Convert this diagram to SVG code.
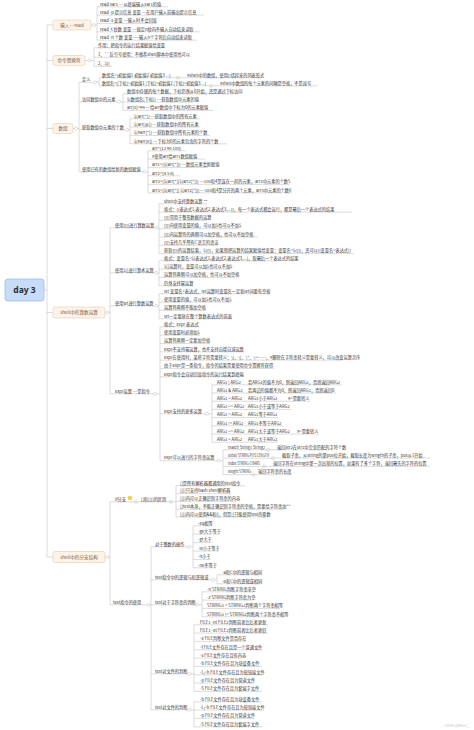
<svg xmlns="http://www.w3.org/2000/svg" width="474" height="730" viewBox="0 0 474 730">
<style>
.t{font-family:"Noto Sans CJK SC","Noto Sans",sans-serif;font-size:4.2px;fill:#333}
.l{stroke:#c2c2c2;stroke-width:0.6;fill:none}
.o{fill:#fff;stroke:#b0b0b0;stroke-width:0.4}
.b1{fill:#fdf3e8;stroke:#e6cdb0;stroke-width:0.6}
.bt{font-family:"Noto Sans CJK SC","Noto Sans",sans-serif;font-size:4.6px;fill:#7a5c3e;text-anchor:middle}
</style>
<rect width="474" height="730" fill="#fff"/>
<g id="connectors">
<path class="l" d="M44,290H47M47,25V557M47,25H53M47,60.5H53M47,128.5H53M47,312.5H53M47,557H53"/>
<path class="l" d="M91,25H97M97,6.8V40.1M85,60.5H94M94,47.8V66.3M73,128.5H79M79,82.3V171.8M105,312.5H110M110,227.8V393.8M105,557H110M110,501.8V604.8"/>
<path class="l" d="M91,82.3H99M99,77.8V85.8M115,101.8H123M123,93.8V110.3M124,129.8H130M130,118.8V143.8M141,171.8H148M148,150.8V192.8"/>
<path class="l" d="M153.6,227.8H159M159,203.8V253.6M153.4,272.8H159M159,260.8V285.8M153.3,305.8H159M159,293.8V318.8M150,393.8H160M160,326.8V460.7M202,413.8H212M212,384.8V442.2M215,460.7H223M223,449.8V474.7"/>
<path class="l" d="M176,485.8V517M146,604.8H151M151,546.8V709.8M184,546.8H193M193,525.8V567.8M209,579.8H217M217,574.8V583.8M192,604.8H202M202,591.8V616.8M184,673.8H194M194,624.8V691.4M184,709.8H194M194,701.8V726.8"/>
<circle class="o" cx="94" cy="25" r="1.5"/><circle class="o" cx="89.5" cy="60.5" r="1.5"/><circle class="o" cx="76" cy="128.5" r="1.5"/><circle class="o" cx="107.5" cy="312.5" r="1.5"/><circle class="o" cx="107.5" cy="557" r="1.5"/>
<circle class="o" cx="95" cy="82.3" r="1.5"/><circle class="o" cx="119" cy="101.8" r="1.5"/><circle class="o" cx="127" cy="129.8" r="1.5"/><circle class="o" cx="144.5" cy="171.8" r="1.5"/>
<circle class="o" cx="178" cy="77.8" r="1.5"/><circle class="o" cx="211" cy="85.8" r="1.5"/>
<circle class="o" cx="156.3" cy="227.8" r="1.5"/><circle class="o" cx="156.2" cy="272.8" r="1.5"/><circle class="o" cx="156.2" cy="305.8" r="1.5"/><circle class="o" cx="155" cy="393.8" r="1.5"/><circle class="o" cx="207" cy="413.8" r="1.5"/><circle class="o" cx="219" cy="460.7" r="1.5"/>
<circle class="o" cx="268" cy="449.8" r="1.5"/><circle class="o" cx="273" cy="458.1" r="1.5"/><circle class="o" cx="264" cy="466.4" r="1.5"/><circle class="o" cx="253.5" cy="474.7" r="1.5"/>
<circle class="o" cx="136" cy="501.8" r="1.5"/><circle class="o" cx="171" cy="501.8" r="1.5"/><circle class="o" cx="148.5" cy="604.8" r="1.5"/><circle class="o" cx="188.5" cy="546.8" r="1.5"/><circle class="o" cx="213" cy="579.8" r="1.5"/><circle class="o" cx="197" cy="604.8" r="1.5"/><circle class="o" cx="189" cy="673.8" r="1.5"/><circle class="o" cx="189" cy="709.8" r="1.5"/>
</g>
<g id="root"><rect x="5" y="279" width="39" height="22" rx="3" fill="#c9dcf7" stroke="#94b4e4" stroke-width="0.7"/><text x="24.5" y="293" font-family="Noto Sans,sans-serif" font-size="8.5" font-weight="bold" fill="#1f2d3d" text-anchor="middle">day 3</text></g>
<g id="n-read"><rect class="b1" x="53" y="20" width="38" height="10" rx="2"/><text class="bt" x="72" y="26.6">输入---read</text></g>
<g id="n-cmd"><rect class="b1" x="53" y="55.5" width="32" height="10" rx="2"/><text class="bt" x="69" y="62.1">命令置换符</text></g>
<g id="n-arr"><rect class="b1" x="53" y="123.5" width="20" height="10" rx="2"/><text class="bt" x="63" y="130.1">数组</text></g>
<g id="n-calc"><rect class="b1" x="53" y="307" width="52" height="11" rx="2"/><text class="bt" x="79" y="314.1">shell中的算数运算</text></g>
<g id="n-branch"><rect class="b1" x="53" y="551.5" width="52" height="11" rx="2"/><text class="bt" x="79" y="558.6">shell中的分支结构</text></g>

<g id="read-items">
<g id="r1"><line class="l" x1="97" y1="6.8" x2="168" y2="6.8"/><text class="t" x="100" y="5.5">read var1 ---从终端输入var1的值</text></g>
<g id="r2"><line class="l" x1="97" y1="15.1" x2="204" y2="15.1"/><text class="t" x="100" y="13.8">read -p 提示信息 变量 ---在用户输入前输出提示信息</text></g>
<g id="r3"><line class="l" x1="97" y1="23.4" x2="157" y2="23.4"/><text class="t" x="100" y="22.1">read -s 变量 ---输入时不会回显</text></g>
<g id="r4"><line class="l" x1="97" y1="31.8" x2="200" y2="31.8"/><text class="t" x="100" y="30.5">read -t 秒数 变量 ---规定n秒内不输入自动结束读取</text></g>
<g id="r5"><line class="l" x1="97" y1="40.1" x2="197" y2="40.1"/><text class="t" x="100" y="38.8">read -n 个数 变量 ----输入n个字符后自动结束读取</text></g>
</g>
<g id="cmd-items">
<g id="c1"><line class="l" x1="94" y1="47.8" x2="165" y2="47.8"/><text class="t" x="98" y="46.5">作用：把指令的运行结果赋值给变量</text></g>
<g id="c2"><line class="l" x1="94" y1="57.3" x2="182" y2="57.3"/><text class="t" x="98" y="56">1、``反引号使用：不推荐shell脚本中使用也可以</text></g>
<g id="c3"><line class="l" x1="94" y1="66.3" x2="112" y2="66.3"/><text class="t" x="98" y="65">2、$()</text></g>
</g>
<g id="arr-items">
<g id="a-def"><line class="l" x1="79" y1="82.3" x2="91" y2="82.3"/><text class="t" x="82" y="81">定义</text></g>
<g id="a-def1"><line class="l" x1="99" y1="77.8" x2="262" y2="77.8"/><text class="t" x="102" y="76.5">数组名=(初始值1 初始值2 初始值3 ...)</text><text class="t" x="187" y="76.5">#shell中的数组，使用()括起来的列表形式</text></g>
<g id="a-def2"><line class="l" x1="99" y1="85.8" x2="318" y2="85.8"/><text class="t" x="102" y="84.5" textLength="104" lengthAdjust="spacingAndGlyphs">数组名=([下标]=初始值1 [下标]=初始值2 [下标]=初始值3 ...)</text><text class="t" x="220" y="84.5">#shell中数组的每个元素的间隔是空格，不是逗号</text></g>
<g id="a-acc"><line class="l" x1="79" y1="101.8" x2="115" y2="101.8"/><text class="t" x="82" y="100.5">访问数组中的元素</text></g>
<g id="a-acc1"><line class="l" x1="123" y1="93.8" x2="239" y2="93.8"/><text class="t" x="127" y="92.5">数组中存储的每个数据，下标仍然从0开始，还是通过下标访问</text></g>
<g id="a-acc2"><line class="l" x1="123" y1="102.1" x2="193" y2="102.1"/><text class="t" x="127" y="100.8">${数组名[下标]} ---获取数组中元素的值</text></g>
<g id="a-acc3"><line class="l" x1="123" y1="110.3" x2="213" y2="110.3"/><text class="t" x="127" y="109">arr[0]=99 ---给arr数组中下标为0的元素赋值</text></g>
<g id="a-cnt"><line class="l" x1="79" y1="129.8" x2="124" y2="129.8"/><text class="t" x="82" y="128.5">获取数组中元素的个数</text></g>
<g id="a-cnt1"><line class="l" x1="130" y1="118.8" x2="200" y2="118.8"/><text class="t" x="134" y="117.5">${arr[*]} ---获取数组中的所有元素</text></g>
<g id="a-cnt2"><line class="l" x1="130" y1="127.1" x2="200" y2="127.1"/><text class="t" x="134" y="125.8">${arr[@]} ---获取数组中的所有元素</text></g>
<g id="a-cnt3"><line class="l" x1="130" y1="135.4" x2="210" y2="135.4"/><text class="t" x="134" y="134.1">${#arr[*]} ---获取数组中所有元素的个数</text></g>
<g id="a-cnt4"><line class="l" x1="130" y1="143.8" x2="227" y2="143.8"/><text class="t" x="134" y="142.5">${#arr[0]} ---下标为0的元素包含的字符的个数</text></g>
<g id="a-new"><line class="l" x1="79" y1="171.8" x2="141" y2="171.8"/><text class="t" x="82" y="170.5">使用已有的数组给新的数组赋值</text></g>
<g id="a-new1"><line class="l" x1="148" y1="150.8" x2="186" y2="150.8"/><text class="t" x="152" y="149.5">arr=(12 90 100)</text></g>
<g id="a-new2"><line class="l" x1="148" y1="159.1" x2="205" y2="159.1"/><text class="t" x="152" y="157.8">#使用arr给arr1数组赋值</text></g>
<g id="a-new3"><line class="l" x1="148" y1="167.4" x2="208" y2="167.4"/><text class="t" x="152" y="166.1">arr1=(${arr[*]}) ---数组元素重新赋值</text></g>
<g id="a-new4"><line class="l" x1="148" y1="175.8" x2="180" y2="175.8"/><text class="t" x="152" y="174.5">arr2=(4 5 6)</text></g>
<g id="a-new5"><line class="l" x1="148" y1="184.3" x2="290" y2="184.3"/><text class="t" x="152" y="183">arr3=(${arr[*]}${arr2[*]}) ---100和4是连在一起的元素，arr3中元素的个数5</text></g>
<g id="a-new6"><line class="l" x1="148" y1="192.8" x2="292" y2="192.8"/><text class="t" x="152" y="191.5">arr3=(${arr[*]} ${arr2[*]}) ---100和4是分开的两个元素，arr3中元素的个数6</text></g>
</g>
<g id="calc-items">
<g id="k-pp"><line class="l" x1="110" y1="227.8" x2="153.6" y2="227.8"/><text class="t" x="115" y="226.5">使用(())进行算数运算</text></g>
<g id="k-pp1"><line class="l" x1="159" y1="203.8" x2="207" y2="203.8"/><text class="t" x="164" y="202.5">shell中支持算数运算 **</text></g>
<g id="k-pp2"><line class="l" x1="159" y1="212.1" x2="352" y2="212.1"/><text class="t" x="164" y="210.8">格式：((表达式1,表达式2,表达式3,...))，每一个表达式都会运行，都是最后一个表达式的结果</text></g>
<g id="k-pp3"><line class="l" x1="159" y1="220.4" x2="207" y2="220.4"/><text class="t" x="164" y="219.1">(())常用于整形数据的运算</text></g>
<g id="k-pp4"><line class="l" x1="159" y1="228.7" x2="237" y2="228.7"/><text class="t" x="164" y="227.4">(())内使用变量的值，可以加$也可以不加$</text></g>
<g id="k-pp5"><line class="l" x1="159" y1="237" x2="258" y2="237"/><text class="t" x="164" y="235.7">(())内运算符的两侧可以加空格，也可以不加空格</text></g>
<g id="k-pp6"><line class="l" x1="159" y1="245.3" x2="218" y2="245.3"/><text class="t" x="164" y="244">(())支持几乎所有C语言的语法</text></g>
<g id="k-pp7"><line class="l" x1="159" y1="253.6" x2="354" y2="253.6"/><text class="t" x="164" y="252.3">获取(())的运算结果，$(())，如果想把运算的结果赋值给变量：变量名=$(())，还可以((变量名=表达式))</text></g>
<g id="k-sq"><line class="l" x1="110" y1="272.8" x2="153.4" y2="272.8"/><text class="t" x="115" y="271.5">使用$[]进行算术运算</text></g>
<g id="k-sq1"><line class="l" x1="159" y1="260.8" x2="277" y2="260.8"/><text class="t" x="164" y="259.5">格式：变量名=$[表达式1,表达式2,表达式3,...]，取最后一个表达式的结果</text></g>
<g id="k-sq2"><line class="l" x1="159" y1="269.1" x2="230" y2="269.1"/><text class="t" x="164" y="267.8">$[]运算时，变量可以加$也可以不加$</text></g>
<g id="k-sq3"><line class="l" x1="159" y1="277.4" x2="235" y2="277.4"/><text class="t" x="164" y="276.1">运算符两侧可以加空格，也可以不加空格</text></g>
<g id="k-sq4"><line class="l" x1="159" y1="285.8" x2="193" y2="285.8"/><text class="t" x="164" y="284.5">仍然支持幂运算</text></g>
<g id="k-let"><line class="l" x1="110" y1="305.8" x2="153.3" y2="305.8"/><text class="t" x="115" y="304.5">使用let进行算数运算</text></g>
<g id="k-let1"><line class="l" x1="159" y1="293.8" x2="270" y2="293.8"/><text class="t" x="164" y="292.5">let 变量名=表达式，let运算时变量名一定和let间要有空格</text></g>
<g id="k-let2"><line class="l" x1="159" y1="302.1" x2="232" y2="302.1"/><text class="t" x="164" y="300.8">使用变量的值，可以加$也可以不加$</text></g>
<g id="k-let3"><line class="l" x1="159" y1="310.4" x2="206" y2="310.4"/><text class="t" x="164" y="309.1">运算符两侧不能加空格</text></g>
<g id="k-let4"><line class="l" x1="159" y1="318.8" x2="232" y2="318.8"/><text class="t" x="164" y="317.5">let一定要放在整个算数表达式的前面</text></g>
<g id="k-expr"><line class="l" x1="110" y1="393.8" x2="150" y2="393.8"/><text class="t" x="115" y="392.5">expr运算 ---是指令</text></g>
<g id="k-e1"><line class="l" x1="160" y1="326.8" x2="199" y2="326.8"/><text class="t" x="164" y="325.5">格式：expr 表达式</text></g>
<g id="k-e2"><line class="l" x1="160" y1="335.1" x2="200" y2="335.1"/><text class="t" x="164" y="333.8">使用变量时必须加$</text></g>
<g id="k-e3"><line class="l" x1="160" y1="343.4" x2="210" y2="343.4"/><text class="t" x="164" y="342.1">运算符两侧一定要加空格</text></g>
<g id="k-e4"><line class="l" x1="160" y1="351.8" x2="244" y2="351.8"/><text class="t" x="164" y="350.5">expr不支持幂运算，也不支持自增自减运算</text></g>
<g id="k-e5"><line class="l" x1="160" y1="360.1" x2="342" y2="360.1"/><text class="t" x="164" y="358.8">expr在使用时，某些字符需要转义：\(、\)、\*、\&lt;……，#删除在字符串转义需要转义，可以改变运算次序</text></g>
<g id="k-e6"><line class="l" x1="160" y1="368.4" x2="274" y2="368.4"/><text class="t" x="164" y="367.1">由于expr是一条指令，指令的结果需要使用命令置换符获得</text></g>
<g id="k-e7"><line class="l" x1="160" y1="376.8" x2="240" y2="376.8"/><text class="t" x="164" y="375.5">expr指令会自动回显指令的运行结果到终端</text></g>
<g id="k-more"><line class="l" x1="160" y1="413.8" x2="202" y2="413.8"/><text class="t" x="164" y="412.5">expr支持的更多运算</text></g>
<g id="k-m1"><line class="l" x1="212" y1="384.8" x2="342" y2="384.8"/><text class="t" x="217" y="383.5">ARG1 | ARG2</text><text class="t" x="248" y="383.5">若ARG1的值不为0，则返回ARG1，否则返回ARG2</text></g>
<g id="k-m2"><line class="l" x1="212" y1="393" x2="336" y2="393"/><text class="t" x="217" y="391.7">ARG1 &amp; ARG2</text><text class="t" x="248" y="391.7">若两边的值都不为0，则返回ARG1，否则返回0</text></g>
<g id="k-m3"><line class="l" x1="212" y1="401.2" x2="310" y2="401.2"/><text class="t" x="217" y="399.9">ARG1 &lt; ARG2</text><text class="t" x="248" y="399.9">ARG1小于ARG2</text><text class="t" x="288" y="399.9">#&lt;需要转义</text></g>
<g id="k-m4"><line class="l" x1="212" y1="409.4" x2="291" y2="409.4"/><text class="t" x="217" y="408.1">ARG1 &lt;= ARG2</text><text class="t" x="248" y="408.1">ARG1小于或等于ARG2</text></g>
<g id="k-m5"><line class="l" x1="212" y1="417.6" x2="278" y2="417.6"/><text class="t" x="217" y="416.3">ARG1 = ARG2</text><text class="t" x="248" y="416.3">ARG1等于ARG2</text></g>
<g id="k-m6"><line class="l" x1="212" y1="425.8" x2="283" y2="425.8"/><text class="t" x="217" y="424.5">ARG1 != ARG2</text><text class="t" x="248" y="424.5">ARG1不等于ARG2</text></g>
<g id="k-m7"><line class="l" x1="212" y1="434" x2="319" y2="434"/><text class="t" x="217" y="432.7">ARG1 &gt;= ARG2</text><text class="t" x="248" y="432.7">ARG1大于或等于ARG2</text><text class="t" x="297" y="432.7">#&gt;需要转义</text></g>
<g id="k-m8"><line class="l" x1="212" y1="442.2" x2="278" y2="442.2"/><text class="t" x="217" y="440.9">ARG1 &gt; ARG2</text><text class="t" x="248" y="440.9">ARG1大于ARG2</text></g>
<g id="k-str"><line class="l" x1="160" y1="460.7" x2="215" y2="460.7"/><text class="t" x="164" y="459.4">expr可以进行的字符串运算</text></g>
<g id="k-s1"><line class="l" x1="223" y1="449.8" x2="333" y2="449.8"/><text class="t" x="228" y="448.5" textLength="37" lengthAdjust="spacingAndGlyphs">match String1 String2</text><text class="t" x="277" y="448.5">返回str2在str1中完全匹配的字符个数</text></g>
<g id="k-s2"><line class="l" x1="223" y1="458.1" x2="430" y2="458.1"/><text class="t" x="228" y="456.8" textLength="41" lengthAdjust="spacingAndGlyphs">substr STRING POS LENGTH</text><text class="t" x="282" y="456.8">截取子串，从string的第pos位开始，截取长度为length的子串，pos从1开始</text></g>
<g id="k-s3"><line class="l" x1="223" y1="466.4" x2="430" y2="466.4"/><text class="t" x="228" y="465.1" textLength="32" lengthAdjust="spacingAndGlyphs">index STRING CHARS</text><text class="t" x="273" y="465.1">返回字符在string中第一次出现的位置，如果有了多个字符，返回最先的字符的位置</text></g>
<g id="k-s4"><line class="l" x1="223" y1="474.7" x2="292" y2="474.7"/><text class="t" x="228" y="473.4" textLength="23" lengthAdjust="spacingAndGlyphs">length STRING</text><text class="t" x="258" y="473.4">返回字符串的长度</text></g>
</g>
<g id="branch-items">
<g id="b-if"><line class="l" x1="110" y1="501.8" x2="176" y2="501.8"/><text class="t" x="115" y="500.5">if分支</text><rect x="128" y="496" width="4" height="4" rx="0.8" fill="#f5d547"/><text class="t" x="141" y="500.5">[]和[[]]的区别</text></g>
<g id="b-if1"><line class="l" x1="176" y1="485.8" x2="245" y2="485.8"/><text class="t" x="180" y="484.5">[]是所有解析器都通用的test指令</text></g>
<g id="b-if2"><line class="l" x1="176" y1="493.6" x2="231" y2="493.6"/><text class="t" x="180" y="492.3">[[]]只支持bash shell解析器</text></g>
<g id="b-if3"><line class="l" x1="176" y1="501.4" x2="236" y2="501.4"/><text class="t" x="180" y="500.1">[[]]内可以正确识别字符串的内容</text></g>
<g id="b-if4"><line class="l" x1="176" y1="509.2" x2="284" y2="509.2"/><text class="t" x="180" y="507.9">[]test本身，不能正确识别字符串的空格，需要给字符串加""</text></g>
<g id="b-if5"><line class="l" x1="176" y1="517" x2="266" y2="517"/><text class="t" x="180" y="515.7">[[]]内可以使用&amp;&amp;和||，但是[]只能使用test的参数</text></g>
<g id="b-test"><line class="l" x1="110" y1="604.8" x2="146" y2="604.8"/><text class="t" x="113" y="603.5">test指令的使用</text></g>
<g id="b-int"><line class="l" x1="151" y1="546.8" x2="184" y2="546.8"/><text class="t" x="155" y="545.5">对于整数的操作</text></g>
<g id="b-int1"><line class="l" x1="193" y1="525.8" x2="212" y2="525.8"/><text class="t" x="198" y="524.5">-eq相等</text></g>
<g id="b-int2"><line class="l" x1="193" y1="534.2" x2="220" y2="534.2"/><text class="t" x="198" y="532.9">-ge大于等于</text></g>
<g id="b-int3"><line class="l" x1="193" y1="542.6" x2="212" y2="542.6"/><text class="t" x="198" y="541.3">-gt大于</text></g>
<g id="b-int4"><line class="l" x1="193" y1="551" x2="219" y2="551"/><text class="t" x="198" y="549.7">-le小于等于</text></g>
<g id="b-int5"><line class="l" x1="193" y1="559.4" x2="211" y2="559.4"/><text class="t" x="198" y="558.1">-lt小于</text></g>
<g id="b-int6"><line class="l" x1="193" y1="567.8" x2="216" y2="567.8"/><text class="t" x="198" y="566.5">-ne不等于</text></g>
<g id="b-log"><line class="l" x1="151" y1="579.8" x2="209" y2="579.8"/><text class="t" x="155" y="578.5">test指令中的逻辑与和逻辑或</text></g>
<g id="b-log1"><line class="l" x1="217" y1="574.8" x2="262" y2="574.8"/><text class="t" x="222" y="573.5">-a和C中的逻辑与相同</text></g>
<g id="b-log2"><line class="l" x1="217" y1="583.8" x2="262" y2="583.8"/><text class="t" x="222" y="582.5">-o和C中的逻辑或相同</text></g>
<g id="b-str"><line class="l" x1="151" y1="604.8" x2="192" y2="604.8"/><text class="t" x="155" y="603.5">test对于字符串的判断</text></g>
<g id="b-str1"><line class="l" x1="202" y1="591.8" x2="254" y2="591.8"/><text class="t" x="207" y="590.5">-n STRING判断字符串非空</text></g>
<g id="b-str2"><line class="l" x1="202" y1="600.1" x2="254" y2="600.1"/><text class="t" x="207" y="598.8">-z STRING判断字符串为空</text></g>
<g id="b-str3"><line class="l" x1="202" y1="608.4" x2="280" y2="608.4"/><text class="t" x="207" y="607.1">STRING1 = STRING2判断两个字符串相等</text></g>
<g id="b-str4"><line class="l" x1="202" y1="616.8" x2="285" y2="616.8"/><text class="t" x="207" y="615.5">STRING1 != STRING2判断两个字符串不相等</text></g>
<g id="b-file"><line class="l" x1="151" y1="673.8" x2="184" y2="673.8"/><text class="t" x="155" y="672.5">test对文件的判断</text></g>
<g id="b-f1"><line class="l" x1="194" y1="624.8" x2="268" y2="624.8"/><text class="t" x="200" y="623.5">FILE1 -nt FILE2判断前者比后者更新</text></g>
<g id="b-f2"><line class="l" x1="194" y1="633.1" x2="268" y2="633.1"/><text class="t" x="200" y="631.8">FILE1 -ot FILE2判断前者比后者更旧</text></g>
<g id="b-f3"><line class="l" x1="194" y1="641.4" x2="246" y2="641.4"/><text class="t" x="200" y="640.1">-e FILE判断文件是否存在</text></g>
<g id="b-f4"><line class="l" x1="194" y1="649.8" x2="262" y2="649.8"/><text class="t" x="200" y="648.5">-f FILE文件存在且是一个普通文件</text></g>
<g id="b-f5"><line class="l" x1="194" y1="658.1" x2="241" y2="658.1"/><text class="t" x="200" y="656.8">-s FILE文件存在且有内容</text></g>
<g id="b-f6"><line class="l" x1="194" y1="666.4" x2="262" y2="666.4"/><text class="t" x="200" y="665.1">-b FILE文件存在且为块设备文件</text></g>
<g id="b-f7"><line class="l" x1="194" y1="674.8" x2="263" y2="674.8"/><text class="t" x="200" y="673.5">-L/-h FILE文件存在且为软链接文件</text></g>
<g id="b-f8"><line class="l" x1="194" y1="683.1" x2="254" y2="683.1"/><text class="t" x="200" y="681.8">-p FILE文件存在且为管道文件</text></g>
<g id="b-f9"><line class="l" x1="194" y1="691.4" x2="262" y2="691.4"/><text class="t" x="200" y="690.1">-S FILE文件存在且为套接字文件</text></g>
<g id="b-file2"><line class="l" x1="151" y1="709.8" x2="184" y2="709.8"/><text class="t" x="155" y="708.5">test对文件的判断</text></g>
<g id="b-g1"><line class="l" x1="194" y1="701.8" x2="262" y2="701.8"/><text class="t" x="200" y="700.5">-b FILE文件存在且为块设备文件</text></g>
<g id="b-g2"><line class="l" x1="194" y1="710.1" x2="263" y2="710.1"/><text class="t" x="200" y="708.8">-L/-h FILE文件存在且为软链接文件</text></g>
<g id="b-g3"><line class="l" x1="194" y1="718.4" x2="254" y2="718.4"/><text class="t" x="200" y="717.1">-p FILE文件存在且为管道文件</text></g>
<g id="b-g4"><line class="l" x1="194" y1="726.8" x2="262" y2="726.8"/><text class="t" x="200" y="725.5">-S FILE文件存在且为套接字文件</text></g>
</g>
<text x="470" y="727" font-family="Noto Sans,sans-serif" font-size="3.6" fill="#c8c8c8" text-anchor="end">CSDN @Whirl__</text>
</svg>
